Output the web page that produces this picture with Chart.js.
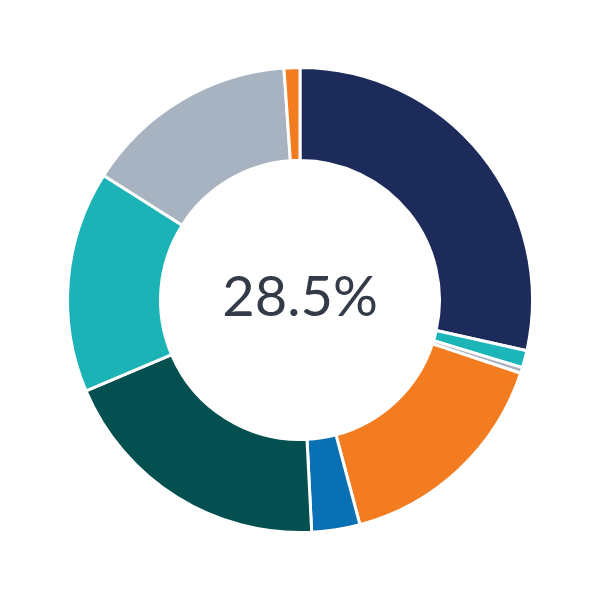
<!DOCTYPE html>
<html>
<head>
<meta charset="utf-8">
<script src="https://cdn.jsdelivr.net/npm/chart.js@4"></script>
<style>
html,body{margin:0;padding:0;background:#fff;}
#wrap{position:relative;width:600px;height:600px;}
#center{position:absolute;left:0;top:-6px;width:600px;height:600px;display:flex;align-items:center;justify-content:center;font-family:Lato,"Open Sans",sans-serif;font-weight:400;font-size:56px;color:#333b48;pointer-events:none;}
</style>
</head>
<body>
<div id="wrap"><canvas id="c" width="600" height="600"></canvas><div id="center">28.5%</div></div>
<script>
const categories = ["A","B","C","D","E","F","G","H","I"];
const values = [28.5, 1.2, 0.4, 15.75, 3.35, 19.4, 15.4, 14.9, 1.1];
const colors = ["#1c2b5a","#1cb5b8","#a8b2c1","#f47c20","#0a70b4","#044f50","#1cb3b7","#a8b3c2","#f47c20"];
new Chart(document.getElementById('c'), {
  type: 'doughnut',
  data: { labels: categories, datasets: [{ data: values, backgroundColor: colors, borderColor: '#ffffff', borderWidth: 3 }] },
  options: {
    responsive: false, animation: false, cutout: '60%',
    layout: { padding: 66 },
    plugins: { legend: { display: false }, tooltip: { enabled: false } }
  }
});
</script>
</body>
</html>
